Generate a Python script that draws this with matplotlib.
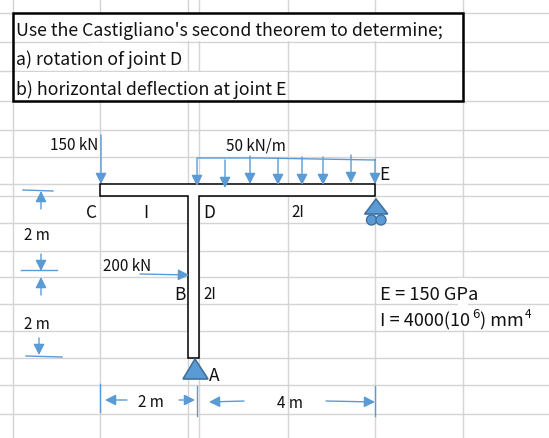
import matplotlib.pyplot as plt
from matplotlib.patches import Polygon, Rectangle, Circle

plt.rcParams["font.family"] = ["Noto Sans CJK KR", "DejaVu Sans"]

BLUE = "#5b9bd5"
DARK = "#41719c"
GRID = "#d4d4d4"
INK = "#111111"

grid_x = [13, 100, 188, 199, 288, 375, 463]
grid_y = [14, 43, 72, 102, 131, 158, 185, 197, 224, 252, 278, 305, 332, 359, 386, 415]

title_lines = [
    "Use the Castigliano's second theorem to determine;",
    "a) rotation of joint D",
    "b) horizontal deflection at joint E",
]
title_y = [31, 60, 90]

# text, x, y
labels = [
    ("150 kN", 50, 146),
    ("50 kN/m", 226, 146),
    ("2I", 291, 213),
    ("2 m", 24, 236),
    ("200 kN", 103, 267),
    ("2I", 203, 295),
    ("2 m", 24, 325),
    ("2 m", 138, 403),
    ("4 m", 277, 404),
]
# joint letters are a bit larger
joints = [
    ("E", 379, 175),
    ("C", 86, 213),
    ("I", 143, 213),
    ("D", 203, 213),
    ("B", 174, 295),
    ("A", 209, 376),
]

load_x = [197, 225, 250, 278, 302, 323, 351, 375]
load_top = [160, 161, 157, 159, 158, 158, 156, 160]
load_tip = [187, 189, 185, 186, 186, 186, 184, 185]

# x0, y0, x1, y1 of the arrows
arrows = [
    (101, 136, 101, 185),
    (41, 210, 41, 192),
    (41, 255, 41, 272),
    (41, 296, 41, 278),
    (39, 339, 39, 356),
    (140, 275, 189, 276),
    (127, 401, 105, 401),
    (179, 401, 195, 401),
    (244, 402, 209, 403),
    (326, 402, 375, 403),
]

# x0, y0, x1, y1 of the plain tick lines
ticks = [
    (23, 191, 53, 192),
    (21, 271, 57, 271),
    (26, 357, 62, 358),
    (100, 385, 100, 413),
    (197, 387, 197, 417),
    (375, 387, 375, 417),
]

fig = plt.figure(figsize=(5.49, 4.39), dpi=100)
ax = fig.add_axes([0, 0, 1, 1])
ax.set_xlim(0, 549)
ax.set_ylim(439, 0)
ax.axis("off")

# worksheet grid
for x in grid_x:
    ax.plot([x, x], [0, 439], color=GRID, lw=1, zorder=1)
for y in grid_y:
    ax.plot([0, 549], [y, y], color=GRID, lw=1, zorder=1)

# cells hidden by overflowing text
for x0, y0, w, h in [(14, 15, 448, 27), (14, 73, 273, 28), (90, 44, 90, 27), (458, 279, 10, 52)]:
    ax.add_patch(Rectangle((x0, y0), w, h, fc="white", ec="none", zorder=1.5))

# title box
ax.add_patch(Rectangle((12.5, 14), 450, 87.5, fc="none", ec="black", lw=1.8, zorder=4))
for line, y in zip(title_lines, title_y):
    ax.text(16, y, line, fontsize=12.75, va="center", color=INK, zorder=5)

# frame
ax.add_patch(Polygon([(100, 185), (375, 185), (375, 197), (199, 197), (199, 359),
                      (188, 359), (188, 197), (100, 197)],
                     closed=True, fc="white", ec="black", lw=1.1, zorder=3))

arrow_style = dict(arrowstyle="-|>,head_width=0.33,head_length=0.65",
                   color=BLUE, lw=1, shrinkA=0, shrinkB=0)

# distributed load
ax.plot([197, 260, 375], [159, 159, 161], color=BLUE, lw=1, zorder=4)
for x, top, tip in zip(load_x, load_top, load_tip):
    ax.annotate("", xy=(x, tip), xytext=(x, top), zorder=4, arrowprops=arrow_style)

for x0, y0, x1, y1 in arrows:
    ax.annotate("", xy=(x1, y1), xytext=(x0, y0), zorder=4, arrowprops=arrow_style)
for x0, y0, x1, y1 in ticks:
    ax.plot([x0, x1], [y0, y1], color=BLUE, lw=1, zorder=4)

# supports
ax.add_patch(Polygon([(195, 360), (183, 380), (208, 380)], closed=True,
                     fc=BLUE, ec=DARK, lw=1.2, zorder=4))
ax.add_patch(Circle((371.5, 221), 5, fc=BLUE, ec=DARK, lw=1, zorder=4))
ax.add_patch(Circle((381, 221), 5, fc=BLUE, ec=DARK, lw=1, zorder=4))
ax.add_patch(Polygon([(376, 200), (364.7, 215), (387.7, 215)], closed=True,
                     fc=BLUE, ec=DARK, lw=1.2, zorder=4))

for text, x, y in labels:
    ax.text(x, y, text, fontsize=11, va="center", color=INK, zorder=5)
for text, x, y in joints:
    ax.text(x, y, text, fontsize=12.5, va="center", color=INK, zorder=5)

# material data
ax.text(380, 295, "E = 150 GPa", fontsize=13.2, va="center", color=INK, zorder=5)
ax.text(380, 321, "I = 4000(10", fontsize=13.1, va="center", color=INK, zorder=5)
ax.text(472.5, 315, "6", fontsize=9.5, va="center", color=INK, zorder=5)
ax.text(480, 321, ") mm", fontsize=13.1, va="center", color=INK, zorder=5)
ax.text(525, 315, "4", fontsize=8.5, va="center", color=INK, zorder=5)

fig.savefig("out.png", dpi=100)
